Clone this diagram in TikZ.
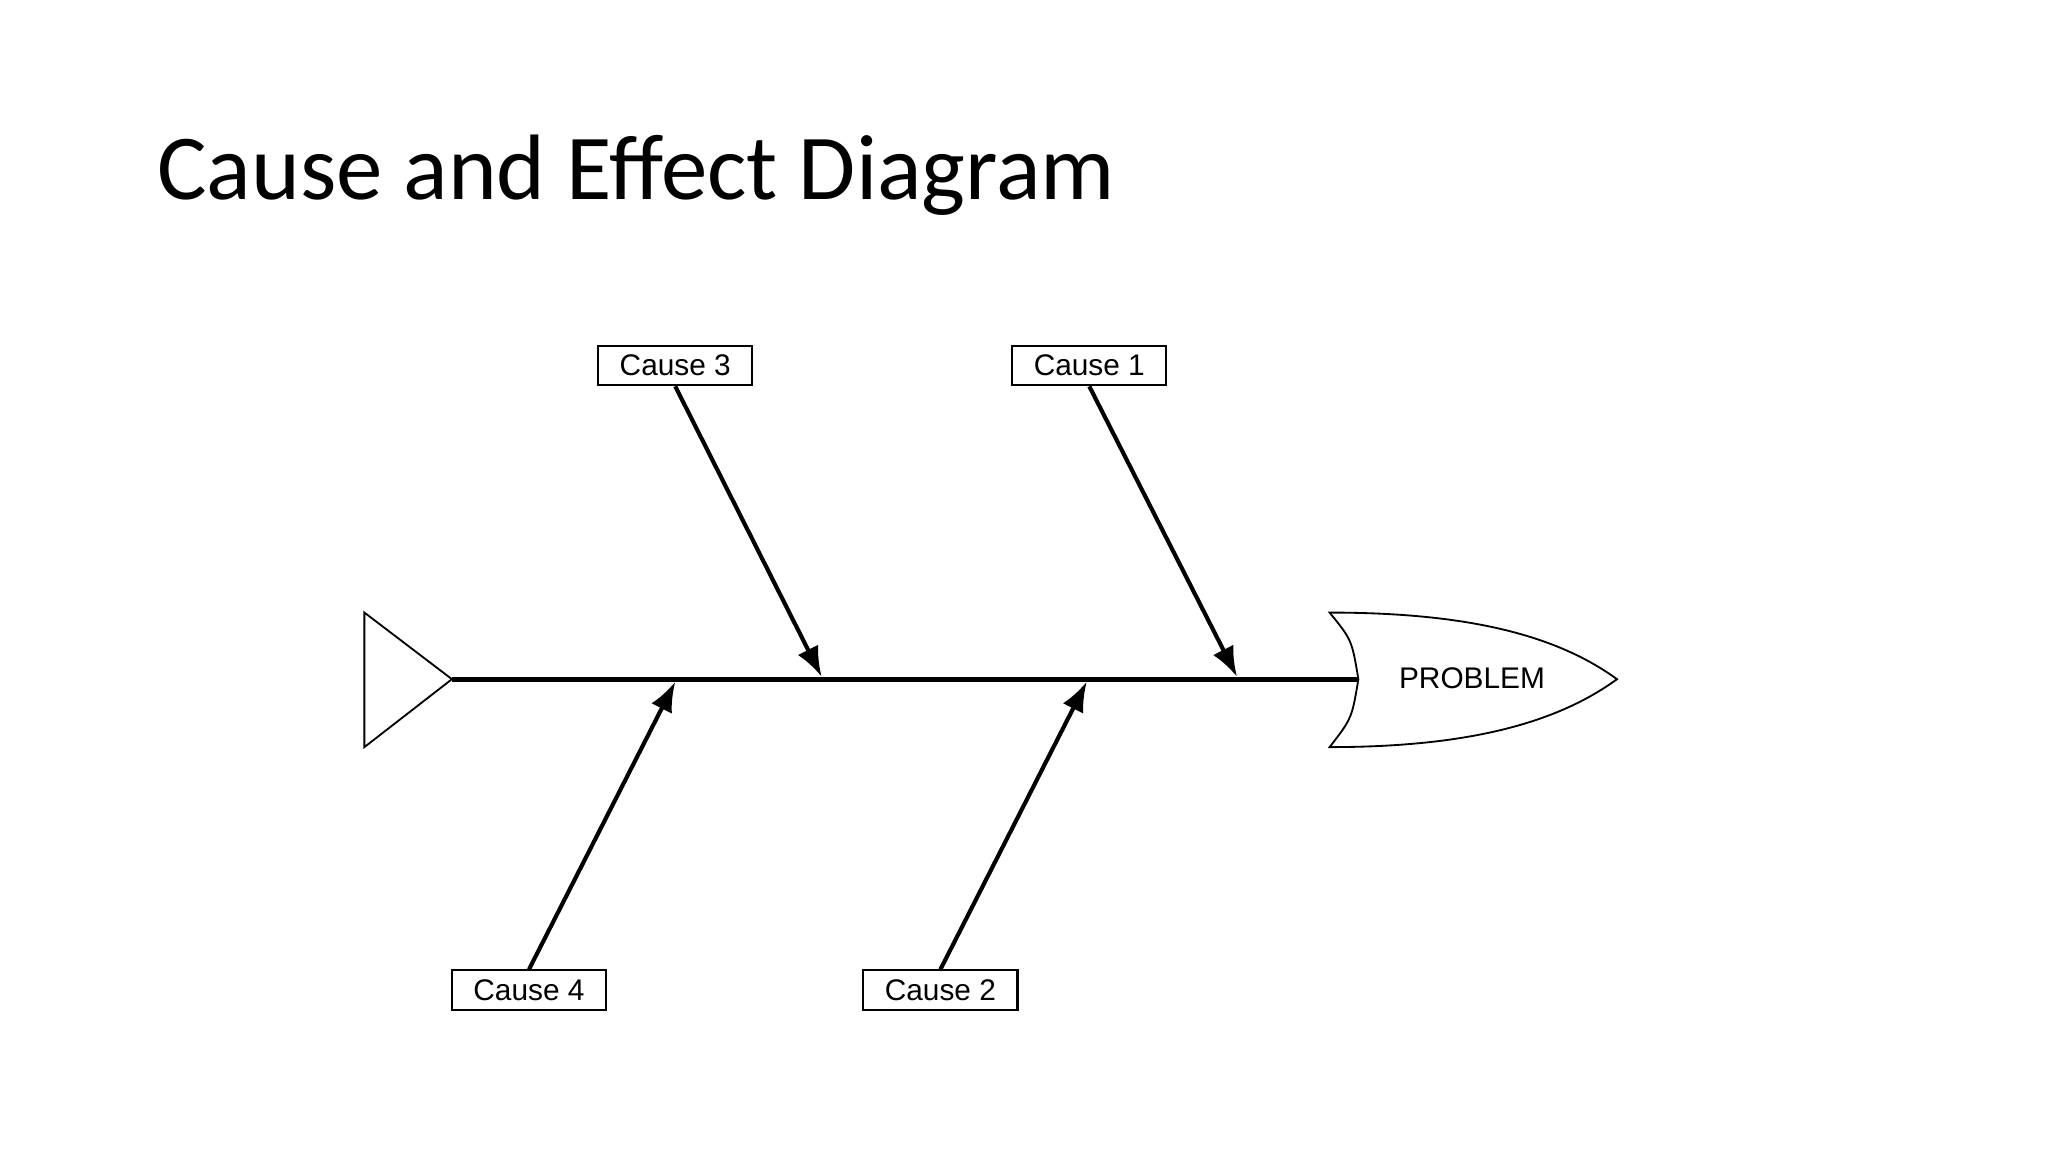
\documentclass[tikz,border=0pt]{standalone}
\usepackage{fontspec}
\setmainfont{Liberation Sans}
\newfontfamily\titlefont{Carlito}
\usetikzlibrary{arrows.meta}
\begin{document}
\begin{tikzpicture}[x=0.02cm, y=-0.02cm, font=\fontsize{13}{15}\selectfont]
		
		% Styles
		
		\tikzset{causebox/.style={draw, line width=0.9pt, minimum width=2.36cm, minimum height=0.6cm, inner sep=0pt},
			bone/.style={line width=1.8pt, -{Latex[length=13pt, width=10pt]}}}
		
		\useasboundingbox (0,0) rectangle (1568,882);
		
		% Title
		
		\node[anchor=base west, inner sep=0pt, font=\titlefont\fontsize{40.5}{44}\selectfont] (title) at (120,153) {Cause and Effect Diagram};
		
		% Tail and spine
		
		\draw[line width=0.8pt] (279,469) -- (346,520) -- (279,572) -- cycle;
		
		\coordinate (tail) at (346,520);
		
		\coordinate (neck) at (1040,520);
		
		\draw[line width=2.2pt] (tail) -- (neck);
		
		% Head
		
		\draw[line width=0.8pt] (1018,469) .. controls (1120,469) and (1190,485) .. (1238,520) .. controls (1190,555) and (1120,572) .. (1018,572) .. controls (1035,550) .. (1040,520) .. controls (1035,490) .. cycle;
		
		\node (problem) at (1127,519) {PROBLEM};
		
		% Causes
		
		\node[causebox] (c3) at (517,280) {Cause 3};
		
		\node[causebox] (c1) at (834,280) {Cause 1};
		
		\node[causebox] (c4) at (405,758) {Cause 4};
		
		\node[causebox] (c2) at (720,758) {Cause 2};
		
		\coordinate (j3) at (629,518);
		
		\coordinate (j1) at (947,518);
		
		\coordinate (j4) at (517,522);
		
		\coordinate (j2) at (832,522);
		
		\draw[bone] (c3.south) -- (j3);
		
		\draw[bone] (c1.south) -- (j1);
		
		\draw[bone] (c4.north) -- (j4);
		
		\draw[bone] (c2.north) -- (j2);
		
	\end{tikzpicture}
\end{document}
